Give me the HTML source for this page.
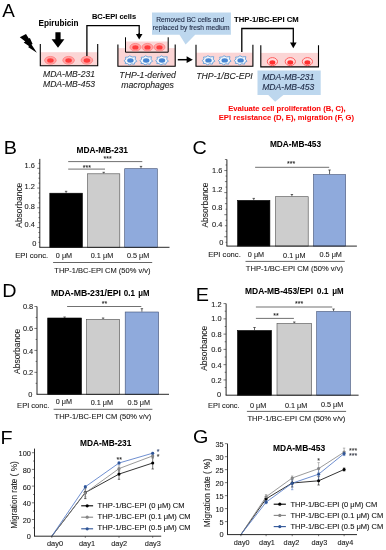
<!DOCTYPE html>
<html lang="en"><head><meta charset="utf-8"><title>Figure</title>
<style>
html,body{margin:0;padding:0;background:#fff;}
body{width:386px;height:550px;overflow:hidden;}
svg{display:block;font-family:"Liberation Sans",Arial,Helvetica,sans-serif;}
</style></head><body>
<svg width="386" height="550" viewBox="0 0 386 550">
<rect width="386" height="550" fill="#fff"/>
<text transform="translate(2.3,16.6) scale(1.08,1)" font-size="17.5">A</text>
<text x="38.5" y="25.7" font-size="8.2" font-weight="bold" stroke="#000" stroke-width="0.05">Epirubicin</text>
<path d="M55.4,32.2 H60.6 V39.2 H64.4 L58,47.7 L51.6,39.2 H55.4 Z" fill="#000"/>
<path d="M19.8,37.3 L26,34.1 L28.8,38.5 L29.9,37.9 L32.6,43.9 L31.5,44.5 L36.9,52.7 L28,47 L29.2,46.3 L23.7,42.4 L25.3,41.4 Z" fill="#000"/>
<rect x="40.30" y="52.20" width="57.40" height="13.60" fill="#fbd5d5"/>
<path d="M40.3,44.0 V65.8 H97.7 V44.0" fill="none" stroke="#000" stroke-width="1.1"/>
<ellipse cx="50.4" cy="60.3" rx="5.8" ry="3.9" fill="#ffa4a4" stroke="#ff6a6a" stroke-width="0.6"/>
<ellipse cx="50.4" cy="60.50" rx="3.25" ry="2.26" fill="#ff3c3c"/>
<ellipse cx="68.6" cy="60.3" rx="5.8" ry="3.9" fill="#ffa4a4" stroke="#ff6a6a" stroke-width="0.6"/>
<ellipse cx="68.6" cy="60.50" rx="3.25" ry="2.26" fill="#ff3c3c"/>
<ellipse cx="86.9" cy="60.3" rx="5.8" ry="3.9" fill="#ffa4a4" stroke="#ff6a6a" stroke-width="0.6"/>
<ellipse cx="86.9" cy="60.50" rx="3.25" ry="2.26" fill="#ff3c3c"/>
<text x="69" y="77.3" font-size="8.6" text-anchor="middle" font-style="italic" fill="#1c1c1c" stroke="#1c1c1c" stroke-width="0.09">MDA-MB-231</text>
<text x="69" y="87.3" font-size="8.6" text-anchor="middle" font-style="italic" fill="#1c1c1c" stroke="#1c1c1c" stroke-width="0.09">MDA-MB-453</text>
<path d="M86.9,56 V25.7 H139.2 V35" fill="none" stroke="#000" stroke-width="1.3"/>
<text x="91.9" y="18.6" font-size="7.5" font-weight="bold" stroke="#000" stroke-width="0.05">BC-EPI cells</text>
<rect x="117.90" y="48.10" width="57.30" height="18.20" fill="#fbd5d5"/>
<path d="M117.9,44.6 V66.3 H175.2 V44.6" fill="none" stroke="#000" stroke-width="1.1"/>
<rect x="125.50" y="37.30" width="42.70" height="14.90" fill="#fff"/>
<rect x="125.50" y="41.50" width="42.70" height="10.70" fill="#fbd5d5"/>
<path d="M125.5,37.3 V52.2 H168.2 V37.3" fill="none" stroke="#000" stroke-width="1.0"/>
<ellipse cx="135.4" cy="47.2" rx="5.5" ry="3.8" fill="#ffa4a4" stroke="#ff6a6a" stroke-width="0.6"/>
<ellipse cx="135.4" cy="47.40" rx="3.08" ry="2.20" fill="#ff3c3c"/>
<ellipse cx="147.5" cy="47.2" rx="5.5" ry="3.8" fill="#ffa4a4" stroke="#ff6a6a" stroke-width="0.6"/>
<ellipse cx="147.5" cy="47.40" rx="3.08" ry="2.20" fill="#ff3c3c"/>
<ellipse cx="159.5" cy="47.2" rx="5.5" ry="3.8" fill="#ffa4a4" stroke="#ff6a6a" stroke-width="0.6"/>
<ellipse cx="159.5" cy="47.40" rx="3.08" ry="2.20" fill="#ff3c3c"/>
<path d="M139.2,33 V35" fill="none" stroke="#000" stroke-width="1.3"/>
<path d="M135.9,34 H142.5 L139.2,39.6 Z" fill="#000"/>
<path d="M124.02,60.86 L125.84,59.03 L125.38,57.21 L127.89,57.09 L129.72,55.84 L132.22,56.98 L135.64,56.75 L135.19,59.26 L136.78,61.31 L134.73,62.45 L134.28,64.28 L131.54,63.82 L129.26,64.96 L127.44,63.59 L125.16,63.59 L125.61,62.00 Z" fill="#f1f6fc" stroke="#5f9cd8" stroke-width="0.85" stroke-linejoin="round"/>
<ellipse cx="130.4" cy="60.50" rx="3.19" ry="2.17" fill="#4585d3"/>
<path d="M139.82,60.86 L141.64,59.03 L141.18,57.21 L143.69,57.09 L145.52,55.84 L148.02,56.98 L151.44,56.75 L150.99,59.26 L152.58,61.31 L150.53,62.45 L150.08,64.28 L147.34,63.82 L145.06,64.96 L143.24,63.59 L140.96,63.59 L141.41,62.00 Z" fill="#f1f6fc" stroke="#5f9cd8" stroke-width="0.85" stroke-linejoin="round"/>
<ellipse cx="146.2" cy="60.50" rx="3.19" ry="2.17" fill="#4585d3"/>
<path d="M155.62,60.86 L157.44,59.03 L156.98,57.21 L159.49,57.09 L161.32,55.84 L163.82,56.98 L167.24,56.75 L166.79,59.26 L168.38,61.31 L166.33,62.45 L165.88,64.28 L163.14,63.82 L160.86,64.96 L159.04,63.59 L156.76,63.59 L157.21,62.00 Z" fill="#f1f6fc" stroke="#5f9cd8" stroke-width="0.85" stroke-linejoin="round"/>
<ellipse cx="162" cy="60.50" rx="3.19" ry="2.17" fill="#4585d3"/>
<text x="147.6" y="78.3" font-size="8.7" text-anchor="middle" font-style="italic" fill="#1c1c1c" stroke="#1c1c1c" stroke-width="0.09">THP-1-derived</text>
<text x="147.6" y="87.9" font-size="8.7" text-anchor="middle" font-style="italic" fill="#1c1c1c" stroke="#1c1c1c" stroke-width="0.09">macrophages</text>
<line x1="177.8" y1="59.7" x2="188" y2="59.7" stroke="#000" stroke-width="1.5"/>
<path d="M186.6,56.3 L192.8,59.7 L186.6,63.1 Z" fill="#000"/>
<path d="M152,12.4 H230.9 V34.8 H195.2 L185.6,44.4 L179.5,34.8 H152 Z" fill="#bdd7ee"/>
<text x="190.2" y="22.0" font-size="6.7" text-anchor="middle" fill="#1a2540" stroke="#1a2540" stroke-width="0.09">Removed BC cells and</text>
<text x="191.2" y="29.5" font-size="6.7" text-anchor="middle" fill="#1a2540" stroke="#1a2540" stroke-width="0.09">replaced by fresh medium</text>
<rect x="196.00" y="52.70" width="56.90" height="13.60" fill="#fbd5d5"/>
<path d="M196,44.8 V66.3 H252.9 V44.8" fill="none" stroke="#000" stroke-width="1.1"/>
<path d="M202.12,60.76 L203.94,58.93 L203.48,57.11 L205.99,56.99 L207.82,55.74 L210.32,56.88 L213.74,56.65 L213.29,59.16 L214.88,61.21 L212.83,62.35 L212.38,64.18 L209.64,63.72 L207.36,64.86 L205.54,63.49 L203.26,63.49 L203.71,61.90 Z" fill="#f1f6fc" stroke="#5f9cd8" stroke-width="0.85" stroke-linejoin="round"/>
<ellipse cx="208.5" cy="60.40" rx="3.19" ry="2.17" fill="#4585d3"/>
<path d="M218.32,60.76 L220.14,58.93 L219.68,57.11 L222.19,56.99 L224.02,55.74 L226.52,56.88 L229.94,56.65 L229.49,59.16 L231.08,61.21 L229.03,62.35 L228.58,64.18 L225.84,63.72 L223.56,64.86 L221.74,63.49 L219.46,63.49 L219.91,61.90 Z" fill="#f1f6fc" stroke="#5f9cd8" stroke-width="0.85" stroke-linejoin="round"/>
<ellipse cx="224.7" cy="60.40" rx="3.19" ry="2.17" fill="#4585d3"/>
<path d="M234.22,60.76 L236.04,58.93 L235.58,57.11 L238.09,56.99 L239.92,55.74 L242.42,56.88 L245.84,56.65 L245.39,59.16 L246.98,61.21 L244.93,62.35 L244.48,64.18 L241.74,63.72 L239.46,64.86 L237.64,63.49 L235.36,63.49 L235.81,61.90 Z" fill="#f1f6fc" stroke="#5f9cd8" stroke-width="0.85" stroke-linejoin="round"/>
<ellipse cx="240.6" cy="60.40" rx="3.19" ry="2.17" fill="#4585d3"/>
<text x="224.5" y="78.5" font-size="8.7" text-anchor="middle" font-style="italic" fill="#1c1c1c" stroke="#1c1c1c" stroke-width="0.09">THP-1/BC-EPI</text>
<path d="M241.8,52 V28.5 H293.3 V43.5" fill="none" stroke="#000" stroke-width="1.3"/>
<path d="M290,42.4 H296.6 L293.3,48.2 Z" fill="#000"/>
<text x="234.1" y="21.6" font-size="7.7" font-weight="bold" stroke="#000" stroke-width="0.05" textLength="64.6" lengthAdjust="spacingAndGlyphs">THP-1/BC-EPI CM</text>
<rect x="260.80" y="52.90" width="57.70" height="14.00" fill="#fbd5d5"/>
<path d="M260.8,45.2 V66.9 H318.5 V45.2" fill="none" stroke="#000" stroke-width="1.1"/>
<ellipse cx="272.4" cy="61.6" rx="5.1" ry="4.0" fill="#ffdcdc" stroke="#ff5050" stroke-width="0.9"/>
<ellipse cx="272.4" cy="62.50" rx="2.96" ry="2.20" fill="#ff3030"/>
<ellipse cx="290.3" cy="61.6" rx="5.1" ry="4.0" fill="#ffdcdc" stroke="#ff5050" stroke-width="0.9"/>
<ellipse cx="290.3" cy="62.50" rx="2.96" ry="2.20" fill="#ff3030"/>
<ellipse cx="307.4" cy="61.6" rx="5.1" ry="4.0" fill="#ffdcdc" stroke="#ff5050" stroke-width="0.9"/>
<ellipse cx="307.4" cy="62.50" rx="2.96" ry="2.20" fill="#ff3030"/>
<path d="M257.5,70.6 H320.7 V95 H283.4 L275.1,101.8 L268.3,95 H257.5 Z" fill="#bdd7ee"/>
<text x="262.2" y="80.3" font-size="8.6" font-style="italic" fill="#1a2540" stroke="#1a2540" stroke-width="0.09">MDA-MB-231</text>
<text x="262.2" y="90.2" font-size="8.6" font-style="italic" fill="#1a2540" stroke="#1a2540" stroke-width="0.09">MDA-MB-453</text>
<text x="228.2" y="110.6" font-size="7.7" font-weight="bold" fill="#fb0707" stroke="#fb0707" stroke-width="0.05" textLength="117.4" lengthAdjust="spacingAndGlyphs">Evaluate cell proliferation (B, C),</text>
<text x="218.7" y="120.0" font-size="7.7" font-weight="bold" fill="#fb0707" stroke="#fb0707" stroke-width="0.05" textLength="135.4" lengthAdjust="spacingAndGlyphs">EPI resistance (D, E), migration (F, G)</text>
<text transform="translate(3.7,153.6) scale(1.13,1)" font-size="17.5">B</text>
<text x="76.5" y="152.7" font-size="8.3" font-weight="bold" stroke="#000" stroke-width="0.05" textLength="51.5" lengthAdjust="spacingAndGlyphs">MDA-MB-231</text>
<line x1="66.1" y1="192.9" x2="66.1" y2="191.3" stroke="#222" stroke-width="0.7"/>
<line x1="64.89999999999999" y1="191.3" x2="67.3" y2="191.3" stroke="#222" stroke-width="0.7"/>
<rect x="49.80" y="193.20" width="32.60" height="54.10" fill="#000" stroke="#000" stroke-width="0.6"/>
<line x1="103.69999999999999" y1="173.5" x2="103.69999999999999" y2="172.3" stroke="#222" stroke-width="0.7"/>
<line x1="102.49999999999999" y1="172.3" x2="104.89999999999999" y2="172.3" stroke="#222" stroke-width="0.7"/>
<rect x="87.60" y="173.80" width="32.20" height="73.50" fill="#cdcdcd" stroke="#4d4d4d" stroke-width="0.6"/>
<line x1="141.0" y1="168.4" x2="141.0" y2="166.4" stroke="#222" stroke-width="0.7"/>
<line x1="139.8" y1="166.4" x2="142.2" y2="166.4" stroke="#222" stroke-width="0.7"/>
<rect x="124.70" y="168.70" width="32.60" height="78.60" fill="#8faadc" stroke="#3f4f73" stroke-width="0.6"/>
<line x1="39.8" y1="158.9" x2="39.8" y2="247.3" stroke="#111" stroke-width="0.9"/>
<line x1="39.349999999999994" y1="247.3" x2="169.5" y2="247.3" stroke="#111" stroke-width="0.9"/>
<line x1="38.4" y1="242.36" x2="39.8" y2="242.36" stroke="#222" stroke-width="0.6"/>
<line x1="38.4" y1="237.43" x2="39.8" y2="237.43" stroke="#222" stroke-width="0.6"/>
<line x1="38.4" y1="232.49" x2="39.8" y2="232.49" stroke="#222" stroke-width="0.6"/>
<line x1="37.199999999999996" y1="227.55" x2="39.8" y2="227.55" stroke="#222" stroke-width="0.6"/>
<line x1="38.4" y1="222.61" x2="39.8" y2="222.61" stroke="#222" stroke-width="0.6"/>
<line x1="38.4" y1="217.68" x2="39.8" y2="217.68" stroke="#222" stroke-width="0.6"/>
<line x1="38.4" y1="212.74" x2="39.8" y2="212.74" stroke="#222" stroke-width="0.6"/>
<line x1="37.199999999999996" y1="207.8" x2="39.8" y2="207.8" stroke="#222" stroke-width="0.6"/>
<line x1="38.4" y1="202.86" x2="39.8" y2="202.86" stroke="#222" stroke-width="0.6"/>
<line x1="38.4" y1="197.93" x2="39.8" y2="197.93" stroke="#222" stroke-width="0.6"/>
<line x1="38.4" y1="192.99" x2="39.8" y2="192.99" stroke="#222" stroke-width="0.6"/>
<line x1="37.199999999999996" y1="188.05" x2="39.8" y2="188.05" stroke="#222" stroke-width="0.6"/>
<line x1="38.4" y1="183.11" x2="39.8" y2="183.11" stroke="#222" stroke-width="0.6"/>
<line x1="38.4" y1="178.18" x2="39.8" y2="178.18" stroke="#222" stroke-width="0.6"/>
<line x1="38.4" y1="173.24" x2="39.8" y2="173.24" stroke="#222" stroke-width="0.6"/>
<line x1="37.199999999999996" y1="168.3" x2="39.8" y2="168.3" stroke="#222" stroke-width="0.6"/>
<line x1="38.4" y1="163.36" x2="39.8" y2="163.36" stroke="#222" stroke-width="0.6"/>
<text x="34.8" y="168.45" font-size="7.4" text-anchor="end" fill="#1a1a1a" stroke="#1a1a1a" stroke-width="0.09">1.6</text>
<text x="34.8" y="188.95" font-size="7.4" text-anchor="end" fill="#1a1a1a" stroke="#1a1a1a" stroke-width="0.09">1.2</text>
<text x="34.8" y="208.55" font-size="7.4" text-anchor="end" fill="#1a1a1a" stroke="#1a1a1a" stroke-width="0.09">0.8</text>
<text x="34.8" y="226.95" font-size="7.4" text-anchor="end" fill="#1a1a1a" stroke="#1a1a1a" stroke-width="0.09">0.4</text>
<text x="36.4" y="245.65" font-size="7.4" text-anchor="end" fill="#1a1a1a" stroke="#1a1a1a" stroke-width="0.09">0</text>
<text transform="translate(22.3,205.2) rotate(-90)" font-size="8.4" text-anchor="middle" fill="#1a1a1a" stroke="#1a1a1a" stroke-width="0.09" textLength="45" lengthAdjust="spacingAndGlyphs">Absorbance</text>
<text x="15.2" y="257.5" font-size="7.5" fill="#1a1a1a" stroke="#1a1a1a" stroke-width="0.09" textLength="33" lengthAdjust="spacingAndGlyphs">EPI conc.</text>
<text x="64" y="257.5" font-size="7.4" text-anchor="middle" fill="#1a1a1a" stroke="#1a1a1a" stroke-width="0.09" textLength="16.3" lengthAdjust="spacingAndGlyphs">0 μM</text>
<text x="102" y="258.4" font-size="7.4" text-anchor="middle" fill="#1a1a1a" stroke="#1a1a1a" stroke-width="0.09" textLength="22.4" lengthAdjust="spacingAndGlyphs">0.1 μM</text>
<text x="138.1" y="257.8" font-size="7.4" text-anchor="middle" fill="#1a1a1a" stroke="#1a1a1a" stroke-width="0.09" textLength="22.4" lengthAdjust="spacingAndGlyphs">0.5 μM</text>
<line x1="53.1" y1="262.5" x2="152.2" y2="262.5" stroke="#222" stroke-width="0.7"/>
<text x="102.4" y="272.5" font-size="7.5" text-anchor="middle" fill="#1a1a1a" stroke="#1a1a1a" stroke-width="0.09" textLength="96.2" lengthAdjust="spacingAndGlyphs">THP-1/BC-EPI CM (50% v/v)</text>
<line x1="68.2" y1="161.6" x2="142.3" y2="161.6" stroke="#333" stroke-width="0.7"/>
<text x="107.6" y="160.72" font-size="7" text-anchor="middle" fill="#1a1a1a" stroke="#1a1a1a" stroke-width="0.09">***</text>
<line x1="68.2" y1="169.1" x2="105" y2="169.1" stroke="#333" stroke-width="0.7"/>
<text x="86.9" y="170.32" font-size="7" text-anchor="middle" fill="#1a1a1a" stroke="#1a1a1a" stroke-width="0.09">***</text>
<text transform="translate(192.6,154.3) scale(1.13,1)" font-size="17.5">C</text>
<text x="269.9" y="147.1" font-size="8.3" font-weight="bold" stroke="#000" stroke-width="0.05" textLength="51.2" lengthAdjust="spacingAndGlyphs">MDA-MB-453</text>
<line x1="253.75" y1="200.1" x2="253.75" y2="198.4" stroke="#222" stroke-width="0.7"/>
<line x1="252.55" y1="198.4" x2="254.95" y2="198.4" stroke="#222" stroke-width="0.7"/>
<rect x="237.60" y="200.40" width="32.30" height="45.70" fill="#000" stroke="#000" stroke-width="0.6"/>
<line x1="291.9" y1="196.4" x2="291.9" y2="194.5" stroke="#222" stroke-width="0.7"/>
<line x1="290.7" y1="194.5" x2="293.09999999999997" y2="194.5" stroke="#222" stroke-width="0.7"/>
<rect x="275.60" y="196.70" width="32.60" height="49.40" fill="#cdcdcd" stroke="#4d4d4d" stroke-width="0.6"/>
<line x1="329.54999999999995" y1="174.3" x2="329.54999999999995" y2="170.0" stroke="#222" stroke-width="0.7"/>
<line x1="328.34999999999997" y1="170.0" x2="330.74999999999994" y2="170.0" stroke="#222" stroke-width="0.7"/>
<rect x="313.50" y="174.60" width="32.10" height="71.50" fill="#8faadc" stroke="#3f4f73" stroke-width="0.6"/>
<line x1="226.9" y1="159.5" x2="226.9" y2="246.1" stroke="#111" stroke-width="0.9"/>
<line x1="226.45000000000002" y1="246.1" x2="356.9" y2="246.1" stroke="#111" stroke-width="0.9"/>
<line x1="224.9" y1="159.5" x2="226.9" y2="159.5" stroke="#222" stroke-width="0.6"/>
<line x1="225.5" y1="165.02" x2="226.9" y2="165.02" stroke="#222" stroke-width="0.6"/>
<line x1="224.3" y1="170.54" x2="226.9" y2="170.54" stroke="#222" stroke-width="0.6"/>
<line x1="225.5" y1="176.06" x2="226.9" y2="176.06" stroke="#222" stroke-width="0.6"/>
<line x1="224.9" y1="181.58" x2="226.9" y2="181.58" stroke="#222" stroke-width="0.6"/>
<line x1="225.5" y1="187.1" x2="226.9" y2="187.1" stroke="#222" stroke-width="0.6"/>
<line x1="224.3" y1="192.62" x2="226.9" y2="192.62" stroke="#222" stroke-width="0.6"/>
<line x1="225.5" y1="198.14" x2="226.9" y2="198.14" stroke="#222" stroke-width="0.6"/>
<line x1="224.9" y1="203.66" x2="226.9" y2="203.66" stroke="#222" stroke-width="0.6"/>
<line x1="225.5" y1="209.18" x2="226.9" y2="209.18" stroke="#222" stroke-width="0.6"/>
<line x1="224.3" y1="214.7" x2="226.9" y2="214.7" stroke="#222" stroke-width="0.6"/>
<line x1="225.5" y1="220.22" x2="226.9" y2="220.22" stroke="#222" stroke-width="0.6"/>
<line x1="224.9" y1="225.74" x2="226.9" y2="225.74" stroke="#222" stroke-width="0.6"/>
<line x1="225.5" y1="231.26" x2="226.9" y2="231.26" stroke="#222" stroke-width="0.6"/>
<line x1="224.3" y1="236.78" x2="226.9" y2="236.78" stroke="#222" stroke-width="0.6"/>
<line x1="225.5" y1="242.3" x2="226.9" y2="242.3" stroke="#222" stroke-width="0.6"/>
<text x="222.4" y="172.95" font-size="7.4" text-anchor="end" fill="#1a1a1a" stroke="#1a1a1a" stroke-width="0.09">1.6</text>
<text x="222.4" y="191.65" font-size="7.4" text-anchor="end" fill="#1a1a1a" stroke="#1a1a1a" stroke-width="0.09">1.2</text>
<text x="222.4" y="210.05" font-size="7.4" text-anchor="end" fill="#1a1a1a" stroke="#1a1a1a" stroke-width="0.09">0.8</text>
<text x="222.4" y="227.45" font-size="7.4" text-anchor="end" fill="#1a1a1a" stroke="#1a1a1a" stroke-width="0.09">0.4</text>
<text x="223.4" y="244.95" font-size="7.4" text-anchor="end" fill="#1a1a1a" stroke="#1a1a1a" stroke-width="0.09">0</text>
<text transform="translate(208.4,205.0) rotate(-90)" font-size="8.4" text-anchor="middle" fill="#1a1a1a" stroke="#1a1a1a" stroke-width="0.09" textLength="45" lengthAdjust="spacingAndGlyphs">Absorbance</text>
<text x="208.2" y="257.1" font-size="7.5" fill="#1a1a1a" stroke="#1a1a1a" stroke-width="0.09" textLength="32.6" lengthAdjust="spacingAndGlyphs">EPI conc.</text>
<text x="256" y="257.1" font-size="7.4" text-anchor="middle" fill="#1a1a1a" stroke="#1a1a1a" stroke-width="0.09" textLength="16.3" lengthAdjust="spacingAndGlyphs">0 μM</text>
<text x="294.3" y="257.8" font-size="7.4" text-anchor="middle" fill="#1a1a1a" stroke="#1a1a1a" stroke-width="0.09" textLength="22.4" lengthAdjust="spacingAndGlyphs">0.1 μM</text>
<text x="330.7" y="256.8" font-size="7.4" text-anchor="middle" fill="#1a1a1a" stroke="#1a1a1a" stroke-width="0.09" textLength="22.4" lengthAdjust="spacingAndGlyphs">0.5 μM</text>
<line x1="245.5" y1="261.4" x2="344.8" y2="261.4" stroke="#222" stroke-width="0.7"/>
<text x="294.4" y="270.6" font-size="7.5" text-anchor="middle" fill="#1a1a1a" stroke="#1a1a1a" stroke-width="0.09" textLength="97.1" lengthAdjust="spacingAndGlyphs">THP-1/BC-EPI CM (50% v/v)</text>
<line x1="255.1" y1="167.3" x2="329.2" y2="167.3" stroke="#333" stroke-width="0.7"/>
<text x="291.2" y="166.42" font-size="7" text-anchor="middle" fill="#1a1a1a" stroke="#1a1a1a" stroke-width="0.09">***</text>
<text transform="translate(2.3,297.1) scale(1.13,1)" font-size="17.5">D</text>
<text x="51" y="296.3" font-size="8.6" font-weight="bold" stroke="#000" stroke-width="0.05" textLength="70" lengthAdjust="spacingAndGlyphs">MDA-MB-231/EPI</text>
<text x="123.7" y="296.3" font-size="8.6" font-weight="bold" stroke="#000" stroke-width="0.05" textLength="11.2" lengthAdjust="spacingAndGlyphs">0.1</text>
<text x="138.2" y="296.3" font-size="8.6" font-weight="bold" stroke="#000" stroke-width="0.05" textLength="11.2" lengthAdjust="spacingAndGlyphs">μM</text>
<line x1="64.6" y1="317.7" x2="64.6" y2="317.0" stroke="#222" stroke-width="0.7"/>
<line x1="63.39999999999999" y1="317.0" x2="65.8" y2="317.0" stroke="#222" stroke-width="0.7"/>
<rect x="47.70" y="318.00" width="33.80" height="76.30" fill="#000" stroke="#000" stroke-width="0.6"/>
<line x1="103.1" y1="319.0" x2="103.1" y2="318.0" stroke="#222" stroke-width="0.7"/>
<line x1="101.89999999999999" y1="318.0" x2="104.3" y2="318.0" stroke="#222" stroke-width="0.7"/>
<rect x="86.60" y="319.30" width="33.00" height="75.00" fill="#cdcdcd" stroke="#4d4d4d" stroke-width="0.6"/>
<line x1="141.9" y1="311.7" x2="141.9" y2="308.7" stroke="#222" stroke-width="0.7"/>
<line x1="140.70000000000002" y1="308.7" x2="143.1" y2="308.7" stroke="#222" stroke-width="0.7"/>
<rect x="125.20" y="312.00" width="33.40" height="82.30" fill="#8faadc" stroke="#3f4f73" stroke-width="0.6"/>
<line x1="37.0" y1="306.5" x2="37.0" y2="394.3" stroke="#111" stroke-width="0.9"/>
<line x1="36.55" y1="394.3" x2="169" y2="394.3" stroke="#111" stroke-width="0.9"/>
<line x1="35.6" y1="383.32" x2="37.0" y2="383.32" stroke="#222" stroke-width="0.6"/>
<line x1="34.4" y1="372.35" x2="37.0" y2="372.35" stroke="#222" stroke-width="0.6"/>
<line x1="35.6" y1="361.38" x2="37.0" y2="361.38" stroke="#222" stroke-width="0.6"/>
<line x1="34.4" y1="350.4" x2="37.0" y2="350.4" stroke="#222" stroke-width="0.6"/>
<line x1="35.6" y1="339.43" x2="37.0" y2="339.43" stroke="#222" stroke-width="0.6"/>
<line x1="34.4" y1="328.45" x2="37.0" y2="328.45" stroke="#222" stroke-width="0.6"/>
<line x1="35.6" y1="317.48" x2="37.0" y2="317.48" stroke="#222" stroke-width="0.6"/>
<line x1="34.4" y1="306.5" x2="37.0" y2="306.5" stroke="#222" stroke-width="0.6"/>
<text x="33.2" y="309.45" font-size="7.4" text-anchor="end" fill="#1a1a1a" stroke="#1a1a1a" stroke-width="0.09">0.8</text>
<text x="33.2" y="331.25" font-size="7.4" text-anchor="end" fill="#1a1a1a" stroke="#1a1a1a" stroke-width="0.09">0.6</text>
<text x="33.2" y="353.65" font-size="7.4" text-anchor="end" fill="#1a1a1a" stroke="#1a1a1a" stroke-width="0.09">0.4</text>
<text x="33.2" y="375.05" font-size="7.4" text-anchor="end" fill="#1a1a1a" stroke="#1a1a1a" stroke-width="0.09">0.2</text>
<text x="32.400000000000006" y="396.55" font-size="7.4" text-anchor="end" fill="#1a1a1a" stroke="#1a1a1a" stroke-width="0.09">0</text>
<text transform="translate(19.7,351.4) rotate(-90)" font-size="8.4" text-anchor="middle" fill="#1a1a1a" stroke="#1a1a1a" stroke-width="0.09" textLength="45" lengthAdjust="spacingAndGlyphs">Absorbance</text>
<text x="17.1" y="407.6" font-size="7.5" fill="#1a1a1a" stroke="#1a1a1a" stroke-width="0.09" textLength="32.3" lengthAdjust="spacingAndGlyphs">EPI conc.</text>
<text x="63.9" y="404.3" font-size="7.4" text-anchor="middle" fill="#1a1a1a" stroke="#1a1a1a" stroke-width="0.09" textLength="16.3" lengthAdjust="spacingAndGlyphs">0 μM</text>
<text x="101.9" y="405.2" font-size="7.4" text-anchor="middle" fill="#1a1a1a" stroke="#1a1a1a" stroke-width="0.09" textLength="22.4" lengthAdjust="spacingAndGlyphs">0.1 μM</text>
<text x="138.8" y="404.6" font-size="7.4" text-anchor="middle" fill="#1a1a1a" stroke="#1a1a1a" stroke-width="0.09" textLength="22.4" lengthAdjust="spacingAndGlyphs">0.5 μM</text>
<line x1="53.6" y1="409.3" x2="152.4" y2="409.3" stroke="#222" stroke-width="0.7"/>
<text x="102.9" y="419.4" font-size="7.5" text-anchor="middle" fill="#1a1a1a" stroke="#1a1a1a" stroke-width="0.09" textLength="96.7" lengthAdjust="spacingAndGlyphs">THP-1/BC-EPI CM (50% v/v)</text>
<line x1="67.1" y1="306.5" x2="141.3" y2="306.5" stroke="#333" stroke-width="0.7"/>
<text x="104.4" y="305.72" font-size="7" text-anchor="middle" fill="#1a1a1a" stroke="#1a1a1a" stroke-width="0.09">**</text>
<text transform="translate(195.8,301.0) scale(1.13,1)" font-size="17.5">E</text>
<text x="245" y="293.5" font-size="8.6" font-weight="bold" stroke="#000" stroke-width="0.05" textLength="68.1" lengthAdjust="spacingAndGlyphs">MDA-MB-453/EPI</text>
<text x="316.8" y="293.5" font-size="8.6" font-weight="bold" stroke="#000" stroke-width="0.05" textLength="11.8" lengthAdjust="spacingAndGlyphs">0.1</text>
<text x="332.2" y="293.5" font-size="8.6" font-weight="bold" stroke="#000" stroke-width="0.05" textLength="11.4" lengthAdjust="spacingAndGlyphs">μM</text>
<line x1="254.5" y1="330.2" x2="254.5" y2="327.5" stroke="#222" stroke-width="0.7"/>
<line x1="253.3" y1="327.5" x2="255.7" y2="327.5" stroke="#222" stroke-width="0.7"/>
<rect x="237.50" y="330.50" width="34.00" height="64.70" fill="#000" stroke="#000" stroke-width="0.6"/>
<line x1="294.29999999999995" y1="323.2" x2="294.29999999999995" y2="322.0" stroke="#222" stroke-width="0.7"/>
<line x1="293.09999999999997" y1="322.0" x2="295.49999999999994" y2="322.0" stroke="#222" stroke-width="0.7"/>
<rect x="277.00" y="323.50" width="34.60" height="71.70" fill="#cdcdcd" stroke="#4d4d4d" stroke-width="0.6"/>
<line x1="333.54999999999995" y1="311.2" x2="333.54999999999995" y2="309.0" stroke="#222" stroke-width="0.7"/>
<line x1="332.34999999999997" y1="309.0" x2="334.74999999999994" y2="309.0" stroke="#222" stroke-width="0.7"/>
<rect x="316.70" y="311.50" width="33.70" height="83.70" fill="#8faadc" stroke="#3f4f73" stroke-width="0.6"/>
<line x1="226.1" y1="303.6" x2="226.1" y2="395.2" stroke="#111" stroke-width="0.9"/>
<line x1="225.65" y1="395.2" x2="358.6" y2="395.2" stroke="#111" stroke-width="0.9"/>
<line x1="224.7" y1="387.56" x2="226.1" y2="387.56" stroke="#222" stroke-width="0.6"/>
<line x1="223.5" y1="379.93" x2="226.1" y2="379.93" stroke="#222" stroke-width="0.6"/>
<line x1="224.7" y1="372.29" x2="226.1" y2="372.29" stroke="#222" stroke-width="0.6"/>
<line x1="223.5" y1="364.66" x2="226.1" y2="364.66" stroke="#222" stroke-width="0.6"/>
<line x1="224.7" y1="357.02" x2="226.1" y2="357.02" stroke="#222" stroke-width="0.6"/>
<line x1="223.5" y1="349.39" x2="226.1" y2="349.39" stroke="#222" stroke-width="0.6"/>
<line x1="224.7" y1="341.75" x2="226.1" y2="341.75" stroke="#222" stroke-width="0.6"/>
<line x1="223.5" y1="334.12" x2="226.1" y2="334.12" stroke="#222" stroke-width="0.6"/>
<line x1="224.7" y1="326.49" x2="226.1" y2="326.49" stroke="#222" stroke-width="0.6"/>
<line x1="223.5" y1="318.85" x2="226.1" y2="318.85" stroke="#222" stroke-width="0.6"/>
<line x1="224.7" y1="311.21" x2="226.1" y2="311.21" stroke="#222" stroke-width="0.6"/>
<line x1="223.5" y1="303.58" x2="226.1" y2="303.58" stroke="#222" stroke-width="0.6"/>
<text x="221.5" y="306.85" font-size="7.4" text-anchor="end" fill="#1a1a1a" stroke="#1a1a1a" stroke-width="0.09">1.2</text>
<text x="221.5" y="321.15" font-size="7.4" text-anchor="end" fill="#1a1a1a" stroke="#1a1a1a" stroke-width="0.09">1.0</text>
<text x="221.5" y="336.75" font-size="7.4" text-anchor="end" fill="#1a1a1a" stroke="#1a1a1a" stroke-width="0.09">0.8</text>
<text x="221.5" y="352.25" font-size="7.4" text-anchor="end" fill="#1a1a1a" stroke="#1a1a1a" stroke-width="0.09">0.6</text>
<text x="221.5" y="367.55" font-size="7.4" text-anchor="end" fill="#1a1a1a" stroke="#1a1a1a" stroke-width="0.09">0.4</text>
<text x="221.5" y="382.75" font-size="7.4" text-anchor="end" fill="#1a1a1a" stroke="#1a1a1a" stroke-width="0.09">0.2</text>
<text x="221.1" y="396.65" font-size="7.4" text-anchor="end" fill="#1a1a1a" stroke="#1a1a1a" stroke-width="0.09">0</text>
<text transform="translate(207.0,348.3) rotate(-90)" font-size="8.4" text-anchor="middle" fill="#1a1a1a" stroke="#1a1a1a" stroke-width="0.09" textLength="45" lengthAdjust="spacingAndGlyphs">Absorbance</text>
<text x="208.1" y="408.4" font-size="7.5" fill="#1a1a1a" stroke="#1a1a1a" stroke-width="0.09" textLength="31.5" lengthAdjust="spacingAndGlyphs">EPI conc.</text>
<text x="258.2" y="407.9" font-size="7.4" text-anchor="middle" fill="#1a1a1a" stroke="#1a1a1a" stroke-width="0.09" textLength="16.3" lengthAdjust="spacingAndGlyphs">0 μM</text>
<text x="296.1" y="407.9" font-size="7.4" text-anchor="middle" fill="#1a1a1a" stroke="#1a1a1a" stroke-width="0.09" textLength="22.4" lengthAdjust="spacingAndGlyphs">0.1 μM</text>
<text x="332.1" y="407.0" font-size="7.4" text-anchor="middle" fill="#1a1a1a" stroke="#1a1a1a" stroke-width="0.09" textLength="22.4" lengthAdjust="spacingAndGlyphs">0.5 μM</text>
<line x1="246.9" y1="411.4" x2="346.1" y2="411.4" stroke="#222" stroke-width="0.7"/>
<text x="296.4" y="421.2" font-size="7.5" text-anchor="middle" fill="#1a1a1a" stroke="#1a1a1a" stroke-width="0.09" textLength="98" lengthAdjust="spacingAndGlyphs">THP-1/BC-EPI CM (50% v/v)</text>
<line x1="255.9" y1="307.0" x2="332.2" y2="307.0" stroke="#333" stroke-width="0.7"/>
<text x="299.2" y="306.02" font-size="7" text-anchor="middle" fill="#1a1a1a" stroke="#1a1a1a" stroke-width="0.09">***</text>
<line x1="255.9" y1="318.4" x2="293.9" y2="318.4" stroke="#333" stroke-width="0.7"/>
<text x="276.1" y="318.02" font-size="7" text-anchor="middle" fill="#1a1a1a" stroke="#1a1a1a" stroke-width="0.09">**</text>
<text transform="translate(0.6,443.5) scale(1.13,1)" font-size="17.5">F</text>
<text x="80" y="446.0" font-size="8.3" font-weight="bold" stroke="#000" stroke-width="0.05" textLength="51.3" lengthAdjust="spacingAndGlyphs">MDA-MB-231</text>
<polyline points="51.8,536.2 85.3,492.6 119.0,474.1 152.7,463.0" fill="none" stroke="#000" stroke-width="0.8" stroke-linejoin="round"/>
<polyline points="51.8,536.2 85.3,492.9 119.0,468.6 152.7,455.9" fill="none" stroke="#808080" stroke-width="0.8" stroke-linejoin="round"/>
<polyline points="51.8,536.2 85.3,486.8 119.0,463.0 152.7,453.2" fill="none" stroke="#4a72c4" stroke-width="0.8" stroke-linejoin="round"/>
<line x1="85.3" y1="487.6" x2="85.3" y2="498.6" stroke="#000" stroke-width="0.55"/>
<line x1="84.1" y1="487.6" x2="86.5" y2="487.6" stroke="#000" stroke-width="0.55"/>
<line x1="84.1" y1="498.6" x2="86.5" y2="498.6" stroke="#000" stroke-width="0.55"/>
<line x1="119.0" y1="469.90000000000003" x2="119.0" y2="479.3" stroke="#000" stroke-width="0.55"/>
<line x1="117.8" y1="469.90000000000003" x2="120.2" y2="469.90000000000003" stroke="#000" stroke-width="0.55"/>
<line x1="117.8" y1="479.3" x2="120.2" y2="479.3" stroke="#000" stroke-width="0.55"/>
<line x1="152.7" y1="457.2" x2="152.7" y2="469.0" stroke="#000" stroke-width="0.55"/>
<line x1="151.5" y1="457.2" x2="153.89999999999998" y2="457.2" stroke="#000" stroke-width="0.55"/>
<line x1="151.5" y1="469.0" x2="153.89999999999998" y2="469.0" stroke="#000" stroke-width="0.55"/>
<line x1="85.3" y1="488.9" x2="85.3" y2="496.9" stroke="#808080" stroke-width="0.55"/>
<line x1="84.1" y1="488.9" x2="86.5" y2="488.9" stroke="#808080" stroke-width="0.55"/>
<line x1="84.1" y1="496.9" x2="86.5" y2="496.9" stroke="#808080" stroke-width="0.55"/>
<line x1="119.0" y1="465.8" x2="119.0" y2="471.40000000000003" stroke="#808080" stroke-width="0.55"/>
<line x1="117.8" y1="465.8" x2="120.2" y2="465.8" stroke="#808080" stroke-width="0.55"/>
<line x1="117.8" y1="471.40000000000003" x2="120.2" y2="471.40000000000003" stroke="#808080" stroke-width="0.55"/>
<line x1="152.7" y1="453.4" x2="152.7" y2="458.4" stroke="#808080" stroke-width="0.55"/>
<line x1="151.5" y1="453.4" x2="153.89999999999998" y2="453.4" stroke="#808080" stroke-width="0.55"/>
<line x1="151.5" y1="458.4" x2="153.89999999999998" y2="458.4" stroke="#808080" stroke-width="0.55"/>
<line x1="85.3" y1="485.6" x2="85.3" y2="488.0" stroke="#4a72c4" stroke-width="0.55"/>
<line x1="84.1" y1="485.6" x2="86.5" y2="485.6" stroke="#4a72c4" stroke-width="0.55"/>
<line x1="84.1" y1="488.0" x2="86.5" y2="488.0" stroke="#4a72c4" stroke-width="0.55"/>
<line x1="119.0" y1="461.8" x2="119.0" y2="464.2" stroke="#4a72c4" stroke-width="0.55"/>
<line x1="117.8" y1="461.8" x2="120.2" y2="461.8" stroke="#4a72c4" stroke-width="0.55"/>
<line x1="117.8" y1="464.2" x2="120.2" y2="464.2" stroke="#4a72c4" stroke-width="0.55"/>
<line x1="152.7" y1="452.4" x2="152.7" y2="454.0" stroke="#4a72c4" stroke-width="0.55"/>
<line x1="151.5" y1="452.4" x2="153.89999999999998" y2="452.4" stroke="#4a72c4" stroke-width="0.55"/>
<line x1="151.5" y1="454.0" x2="153.89999999999998" y2="454.0" stroke="#4a72c4" stroke-width="0.55"/>
<circle cx="85.3" cy="492.6" r="1.55" fill="#000"/>
<circle cx="119.0" cy="474.1" r="1.55" fill="#000"/>
<circle cx="152.7" cy="463.0" r="1.55" fill="#000"/>
<circle cx="85.3" cy="492.9" r="1.55" fill="#858585"/>
<circle cx="119.0" cy="468.6" r="1.55" fill="#858585"/>
<circle cx="152.7" cy="455.9" r="1.55" fill="#858585"/>
<circle cx="85.3" cy="486.8" r="1.55" fill="#2f5597"/>
<circle cx="119.0" cy="463.0" r="1.55" fill="#2f5597"/>
<circle cx="152.7" cy="453.2" r="1.55" fill="#2f5597"/>
<line x1="34.5" y1="448.6" x2="34.5" y2="536.2" stroke="#111" stroke-width="0.9"/>
<line x1="34.05" y1="536.2" x2="161.2" y2="536.2" stroke="#111" stroke-width="0.9"/>
<line x1="33.1" y1="527.85" x2="34.5" y2="527.85" stroke="#222" stroke-width="0.6"/>
<line x1="31.9" y1="519.5" x2="34.5" y2="519.5" stroke="#222" stroke-width="0.6"/>
<line x1="33.1" y1="511.15" x2="34.5" y2="511.15" stroke="#222" stroke-width="0.6"/>
<line x1="31.9" y1="502.8" x2="34.5" y2="502.8" stroke="#222" stroke-width="0.6"/>
<line x1="33.1" y1="494.45" x2="34.5" y2="494.45" stroke="#222" stroke-width="0.6"/>
<line x1="31.9" y1="486.1" x2="34.5" y2="486.1" stroke="#222" stroke-width="0.6"/>
<line x1="33.1" y1="477.75" x2="34.5" y2="477.75" stroke="#222" stroke-width="0.6"/>
<line x1="31.9" y1="469.4" x2="34.5" y2="469.4" stroke="#222" stroke-width="0.6"/>
<line x1="33.1" y1="461.05" x2="34.5" y2="461.05" stroke="#222" stroke-width="0.6"/>
<line x1="31.9" y1="452.7" x2="34.5" y2="452.7" stroke="#222" stroke-width="0.6"/>
<text x="30.9" y="456.05" font-size="7.4" text-anchor="end" fill="#1a1a1a" stroke="#1a1a1a" stroke-width="0.09">100</text>
<text x="30.9" y="472.85" font-size="7.4" text-anchor="end" fill="#1a1a1a" stroke="#1a1a1a" stroke-width="0.09">80</text>
<text x="30.9" y="489.65" font-size="7.4" text-anchor="end" fill="#1a1a1a" stroke="#1a1a1a" stroke-width="0.09">60</text>
<text x="30.9" y="506.25" font-size="7.4" text-anchor="end" fill="#1a1a1a" stroke="#1a1a1a" stroke-width="0.09">40</text>
<text x="30.9" y="522.65" font-size="7.4" text-anchor="end" fill="#1a1a1a" stroke="#1a1a1a" stroke-width="0.09">20</text>
<text x="30.9" y="539.05" font-size="7.4" text-anchor="end" fill="#1a1a1a" stroke="#1a1a1a" stroke-width="0.09">0</text>
<line x1="51.8" y1="536.2" x2="51.8" y2="537.8000000000001" stroke="#222" stroke-width="0.6"/>
<line x1="85.3" y1="536.2" x2="85.3" y2="537.8000000000001" stroke="#222" stroke-width="0.6"/>
<line x1="119.0" y1="536.2" x2="119.0" y2="537.8000000000001" stroke="#222" stroke-width="0.6"/>
<line x1="152.7" y1="536.2" x2="152.7" y2="537.8000000000001" stroke="#222" stroke-width="0.6"/>
<text x="55.0" y="545.8" font-size="7.4" text-anchor="middle" fill="#1a1a1a" stroke="#1a1a1a" stroke-width="0.09" textLength="16" lengthAdjust="spacingAndGlyphs">day0</text>
<text x="87.0" y="545.8" font-size="7.4" text-anchor="middle" fill="#1a1a1a" stroke="#1a1a1a" stroke-width="0.09" textLength="16" lengthAdjust="spacingAndGlyphs">day1</text>
<text x="119.2" y="545.8" font-size="7.4" text-anchor="middle" fill="#1a1a1a" stroke="#1a1a1a" stroke-width="0.09" textLength="16" lengthAdjust="spacingAndGlyphs">day2</text>
<text x="152.8" y="545.8" font-size="7.4" text-anchor="middle" fill="#1a1a1a" stroke="#1a1a1a" stroke-width="0.09" textLength="16" lengthAdjust="spacingAndGlyphs">day3</text>
<text transform="translate(16.8,495.0) rotate(-90)" font-size="8.2" text-anchor="middle" fill="#1a1a1a" stroke="#1a1a1a" stroke-width="0.09" textLength="67.3" lengthAdjust="spacingAndGlyphs">Migration rate ( %)</text>
<line x1="81.2" y1="505.8" x2="93.1" y2="505.8" stroke="#000" stroke-width="1.1"/>
<circle cx="87.2" cy="505.8" r="1.6" fill="#000"/>
<text x="97.6" y="508.0" font-size="7.5" fill="#111" stroke="#111" stroke-width="0.09" textLength="87" lengthAdjust="spacingAndGlyphs">THP-1/BC-EPI (0 μM) CM</text>
<line x1="81.2" y1="517.2" x2="93.1" y2="517.2" stroke="#858585" stroke-width="1.1"/>
<circle cx="87.2" cy="517.2" r="1.6" fill="#858585"/>
<text x="97.6" y="519.4" font-size="7.5" fill="#111" stroke="#111" stroke-width="0.09" textLength="93" lengthAdjust="spacingAndGlyphs">THP-1/BC-EPI (0.1 μM) CM</text>
<line x1="81.2" y1="528.8" x2="93.1" y2="528.8" stroke="#2f5597" stroke-width="1.1"/>
<circle cx="87.2" cy="528.8" r="1.6" fill="#2f5597"/>
<text x="97.6" y="530.3" font-size="7.5" fill="#111" stroke="#111" stroke-width="0.09" textLength="93" lengthAdjust="spacingAndGlyphs">THP-1/BC-EPI (0.5 μM) CM</text>
<text x="119.3" y="461.52" font-size="7" text-anchor="middle" fill="#222" stroke="#222" stroke-width="0.09">**</text>
<text x="158.2" y="454.22" font-size="7" text-anchor="middle" fill="#2b3f6b" stroke="#2b3f6b" stroke-width="0.09">*</text>
<text x="158.2" y="458.52" font-size="7" text-anchor="middle" fill="#333" stroke="#333" stroke-width="0.09">*</text>
<text transform="translate(193.0,443.1) scale(1.13,1)" font-size="17.5">G</text>
<text x="273.1" y="450.6" font-size="8.3" font-weight="bold" stroke="#000" stroke-width="0.05" textLength="52" lengthAdjust="spacingAndGlyphs">MDA-MB-453</text>
<polyline points="240.9,534.6 266.1,498.8 292.2,483.0 318.6,480.8 344.1,469.5" fill="none" stroke="#000" stroke-width="0.8" stroke-linejoin="round"/>
<polyline points="240.9,534.6 266.1,496.8 292.2,478.0 318.6,468.6 344.1,452.1" fill="none" stroke="#808080" stroke-width="0.8" stroke-linejoin="round"/>
<polyline points="240.9,534.6 266.1,502.2 292.2,483.2 318.6,474.2 344.1,453.6" fill="none" stroke="#4a72c4" stroke-width="0.8" stroke-linejoin="round"/>
<line x1="266.1" y1="497.3" x2="266.1" y2="500.3" stroke="#000" stroke-width="0.55"/>
<line x1="264.90000000000003" y1="497.3" x2="267.3" y2="497.3" stroke="#000" stroke-width="0.55"/>
<line x1="264.90000000000003" y1="500.3" x2="267.3" y2="500.3" stroke="#000" stroke-width="0.55"/>
<line x1="292.2" y1="479.0" x2="292.2" y2="487.0" stroke="#000" stroke-width="0.55"/>
<line x1="291.0" y1="479.0" x2="293.4" y2="479.0" stroke="#000" stroke-width="0.55"/>
<line x1="291.0" y1="487.0" x2="293.4" y2="487.0" stroke="#000" stroke-width="0.55"/>
<line x1="318.6" y1="476.6" x2="318.6" y2="485.0" stroke="#000" stroke-width="0.55"/>
<line x1="317.40000000000003" y1="476.6" x2="319.8" y2="476.6" stroke="#000" stroke-width="0.55"/>
<line x1="317.40000000000003" y1="485.0" x2="319.8" y2="485.0" stroke="#000" stroke-width="0.55"/>
<line x1="344.1" y1="468.0" x2="344.1" y2="471.0" stroke="#000" stroke-width="0.55"/>
<line x1="342.90000000000003" y1="468.0" x2="345.3" y2="468.0" stroke="#000" stroke-width="0.55"/>
<line x1="342.90000000000003" y1="471.0" x2="345.3" y2="471.0" stroke="#000" stroke-width="0.55"/>
<line x1="266.1" y1="494.6" x2="266.1" y2="499.0" stroke="#808080" stroke-width="0.55"/>
<line x1="264.90000000000003" y1="494.6" x2="267.3" y2="494.6" stroke="#808080" stroke-width="0.55"/>
<line x1="264.90000000000003" y1="499.0" x2="267.3" y2="499.0" stroke="#808080" stroke-width="0.55"/>
<line x1="292.2" y1="476.0" x2="292.2" y2="480.0" stroke="#808080" stroke-width="0.55"/>
<line x1="291.0" y1="476.0" x2="293.4" y2="476.0" stroke="#808080" stroke-width="0.55"/>
<line x1="291.0" y1="480.0" x2="293.4" y2="480.0" stroke="#808080" stroke-width="0.55"/>
<line x1="318.6" y1="462.6" x2="318.6" y2="472.6" stroke="#808080" stroke-width="0.55"/>
<line x1="317.40000000000003" y1="462.6" x2="319.8" y2="462.6" stroke="#808080" stroke-width="0.55"/>
<line x1="317.40000000000003" y1="472.6" x2="319.8" y2="472.6" stroke="#808080" stroke-width="0.55"/>
<line x1="344.1" y1="448.1" x2="344.1" y2="455.1" stroke="#808080" stroke-width="0.55"/>
<line x1="342.90000000000003" y1="448.1" x2="345.3" y2="448.1" stroke="#808080" stroke-width="0.55"/>
<line x1="342.90000000000003" y1="455.1" x2="345.3" y2="455.1" stroke="#808080" stroke-width="0.55"/>
<line x1="266.1" y1="500.7" x2="266.1" y2="503.7" stroke="#4a72c4" stroke-width="0.55"/>
<line x1="264.90000000000003" y1="500.7" x2="267.3" y2="500.7" stroke="#4a72c4" stroke-width="0.55"/>
<line x1="264.90000000000003" y1="503.7" x2="267.3" y2="503.7" stroke="#4a72c4" stroke-width="0.55"/>
<line x1="292.2" y1="478.2" x2="292.2" y2="489.7" stroke="#4a72c4" stroke-width="0.55"/>
<line x1="291.0" y1="478.2" x2="293.4" y2="478.2" stroke="#4a72c4" stroke-width="0.55"/>
<line x1="291.0" y1="489.7" x2="293.4" y2="489.7" stroke="#4a72c4" stroke-width="0.55"/>
<line x1="318.6" y1="468.2" x2="318.6" y2="480.2" stroke="#4a72c4" stroke-width="0.55"/>
<line x1="317.40000000000003" y1="468.2" x2="319.8" y2="468.2" stroke="#4a72c4" stroke-width="0.55"/>
<line x1="317.40000000000003" y1="480.2" x2="319.8" y2="480.2" stroke="#4a72c4" stroke-width="0.55"/>
<line x1="344.1" y1="451.6" x2="344.1" y2="455.6" stroke="#4a72c4" stroke-width="0.55"/>
<line x1="342.90000000000003" y1="451.6" x2="345.3" y2="451.6" stroke="#4a72c4" stroke-width="0.55"/>
<line x1="342.90000000000003" y1="455.6" x2="345.3" y2="455.6" stroke="#4a72c4" stroke-width="0.55"/>
<circle cx="266.1" cy="498.8" r="1.55" fill="#000"/>
<circle cx="292.2" cy="483.0" r="1.55" fill="#000"/>
<circle cx="318.6" cy="480.8" r="1.55" fill="#000"/>
<circle cx="344.1" cy="469.5" r="1.55" fill="#000"/>
<circle cx="266.1" cy="496.8" r="1.55" fill="#858585"/>
<circle cx="292.2" cy="478.0" r="1.55" fill="#858585"/>
<circle cx="318.6" cy="468.6" r="1.55" fill="#858585"/>
<circle cx="344.1" cy="452.1" r="1.55" fill="#858585"/>
<circle cx="266.1" cy="502.2" r="1.55" fill="#2f5597"/>
<circle cx="292.2" cy="483.2" r="1.55" fill="#2f5597"/>
<circle cx="318.6" cy="474.2" r="1.55" fill="#2f5597"/>
<circle cx="344.1" cy="453.6" r="1.55" fill="#2f5597"/>
<line x1="227.5" y1="443.7" x2="227.5" y2="534.6" stroke="#111" stroke-width="0.9"/>
<line x1="227.05" y1="534.6" x2="357" y2="534.6" stroke="#111" stroke-width="0.9"/>
<line x1="224.9" y1="521.61" x2="227.5" y2="521.61" stroke="#222" stroke-width="0.6"/>
<line x1="224.9" y1="508.62" x2="227.5" y2="508.62" stroke="#222" stroke-width="0.6"/>
<line x1="224.9" y1="495.63" x2="227.5" y2="495.63" stroke="#222" stroke-width="0.6"/>
<line x1="224.9" y1="482.64" x2="227.5" y2="482.64" stroke="#222" stroke-width="0.6"/>
<line x1="224.9" y1="469.65" x2="227.5" y2="469.65" stroke="#222" stroke-width="0.6"/>
<line x1="224.9" y1="456.66" x2="227.5" y2="456.66" stroke="#222" stroke-width="0.6"/>
<line x1="224.9" y1="443.67" x2="227.5" y2="443.67" stroke="#222" stroke-width="0.6"/>
<text x="223.7" y="446.65" font-size="7.4" text-anchor="end" fill="#1a1a1a" stroke="#1a1a1a" stroke-width="0.09">35</text>
<text x="223.7" y="460.25" font-size="7.4" text-anchor="end" fill="#1a1a1a" stroke="#1a1a1a" stroke-width="0.09">30</text>
<text x="223.7" y="473.15" font-size="7.4" text-anchor="end" fill="#1a1a1a" stroke="#1a1a1a" stroke-width="0.09">25</text>
<text x="223.7" y="486.15" font-size="7.4" text-anchor="end" fill="#1a1a1a" stroke="#1a1a1a" stroke-width="0.09">20</text>
<text x="223.7" y="499.05" font-size="7.4" text-anchor="end" fill="#1a1a1a" stroke="#1a1a1a" stroke-width="0.09">15</text>
<text x="223.7" y="512.05" font-size="7.4" text-anchor="end" fill="#1a1a1a" stroke="#1a1a1a" stroke-width="0.09">10</text>
<text x="223.7" y="524.95" font-size="7.4" text-anchor="end" fill="#1a1a1a" stroke="#1a1a1a" stroke-width="0.09">5</text>
<text x="223.7" y="537.25" font-size="7.4" text-anchor="end" fill="#1a1a1a" stroke="#1a1a1a" stroke-width="0.09">0</text>
<line x1="240.9" y1="534.6" x2="240.9" y2="536.2" stroke="#222" stroke-width="0.6"/>
<line x1="266.1" y1="534.6" x2="266.1" y2="536.2" stroke="#222" stroke-width="0.6"/>
<line x1="292.2" y1="534.6" x2="292.2" y2="536.2" stroke="#222" stroke-width="0.6"/>
<line x1="318.6" y1="534.6" x2="318.6" y2="536.2" stroke="#222" stroke-width="0.6"/>
<line x1="344.1" y1="534.6" x2="344.1" y2="536.2" stroke="#222" stroke-width="0.6"/>
<text x="241.7" y="545.3" font-size="7.4" text-anchor="middle" fill="#1a1a1a" stroke="#1a1a1a" stroke-width="0.09" textLength="15.8" lengthAdjust="spacingAndGlyphs">day0</text>
<text x="267.0" y="545.3" font-size="7.4" text-anchor="middle" fill="#1a1a1a" stroke="#1a1a1a" stroke-width="0.09" textLength="15.8" lengthAdjust="spacingAndGlyphs">day1</text>
<text x="291.5" y="545.3" font-size="7.4" text-anchor="middle" fill="#1a1a1a" stroke="#1a1a1a" stroke-width="0.09" textLength="15.8" lengthAdjust="spacingAndGlyphs">day2</text>
<text x="319.3" y="545.3" font-size="7.4" text-anchor="middle" fill="#1a1a1a" stroke="#1a1a1a" stroke-width="0.09" textLength="15.8" lengthAdjust="spacingAndGlyphs">day3</text>
<text x="345.3" y="545.3" font-size="7.4" text-anchor="middle" fill="#1a1a1a" stroke="#1a1a1a" stroke-width="0.09" textLength="15.8" lengthAdjust="spacingAndGlyphs">day4</text>
<text transform="translate(209.7,493.0) rotate(-90)" font-size="8.2" text-anchor="middle" fill="#1a1a1a" stroke="#1a1a1a" stroke-width="0.09" textLength="68.6" lengthAdjust="spacingAndGlyphs">Migration rate ( %)</text>
<line x1="273.7" y1="504.2" x2="285.9" y2="504.2" stroke="#000" stroke-width="1.1"/>
<circle cx="279.8" cy="504.2" r="1.6" fill="#000"/>
<text x="290.4" y="506.8" font-size="7.5" fill="#111" stroke="#111" stroke-width="0.09" textLength="86.9" lengthAdjust="spacingAndGlyphs">THP-1/BC-EPI (0 μM) CM</text>
<line x1="273.7" y1="515.4" x2="285.9" y2="515.4" stroke="#858585" stroke-width="1.1"/>
<circle cx="279.8" cy="515.4" r="1.6" fill="#858585"/>
<text x="290.4" y="518.0" font-size="7.5" fill="#111" stroke="#111" stroke-width="0.09" textLength="92.9" lengthAdjust="spacingAndGlyphs">THP-1/BC-EPI (0.1 μM) CM</text>
<line x1="273.7" y1="526.6" x2="285.9" y2="526.6" stroke="#2f5597" stroke-width="1.1"/>
<circle cx="279.8" cy="526.6" r="1.6" fill="#2f5597"/>
<text x="290.4" y="529.1" font-size="7.5" fill="#111" stroke="#111" stroke-width="0.09" textLength="92.9" lengthAdjust="spacingAndGlyphs">THP-1/BC-EPI (0.5 μM) CM</text>
<text x="318.6" y="463.32" font-size="7" text-anchor="middle" fill="#333" stroke="#333" stroke-width="0.09">*</text>
<text x="353.2" y="452.62" font-size="7" text-anchor="middle" fill="#333" stroke="#333" stroke-width="0.09">***</text>
<text x="353.2" y="457.52" font-size="7" text-anchor="middle" fill="#2a2f3d" stroke="#2a2f3d" stroke-width="0.09">***</text>
</svg></body></html>
